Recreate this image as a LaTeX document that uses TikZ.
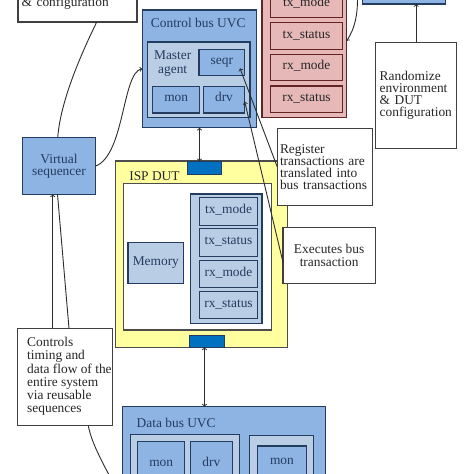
\documentclass[tikz,border=0pt]{standalone}
\usepackage{fontspec}
\setmainfont{Liberation Serif}
\definecolor{uvcblue}{RGB}{142,180,227}
\definecolor{agentblue}{RGB}{185,205,229}
\definecolor{edgeblue}{RGB}{36,60,96}
\definecolor{portblue}{RGB}{0,112,192}
\definecolor{dutyellow}{RGB}{255,255,160}
\definecolor{regpink}{RGB}{230,185,184}
\definecolor{regedge}{RGB}{99,37,35}
\definecolor{wiregray}{RGB}{45,45,45}

\begin{document}
\begin{tikzpicture}[x=1pt,y=-1pt,
    every node/.style={font=\fontsize{13.4}{13.4}\selectfont, inner sep=0pt, outer sep=0pt},
    blk/.style={draw=edgeblue, line width=1.1pt, text=edgeblue},
    uvc/.style={blk, fill=uvcblue},
    agt/.style={blk, fill=agentblue},
    unit/.style={uvc, text height=0.7em, text depth=0.25em},
    reg/.style={agt, text height=0.7em, text depth=0.25em, minimum width=58.4pt, minimum height=27.6pt},
    preg/.style={draw=regedge, line width=1.1pt, fill=regpink, text=black!85, text height=0.7em, text depth=0.25em, minimum width=71.6pt, minimum height=26.6pt},
    port/.style={draw=edgeblue, line width=0.8pt, fill=portblue},
    note/.style={draw=black!75, line width=1.1pt, fill=white, text=black!85},
    wire/.style={draw=wiregray, line width=0.9pt}]
    \useasboundingbox (0,0) rectangle (474,474);
    \fill[white] (0,0) rectangle (474,474);
    \clip (0,0) rectangle (474,474);

    \node[note, anchor=south west, inner xsep=3.7pt, inner ysep=13pt, text width=111.6pt, align=left] (cfg) at (18,22) {\& configuration};
    \node[uvc, minimum width=73.4pt, minimum height=56.6pt, align=center, font=\fontsize{13.4}{11.7}\selectfont] (vs) at (59,166) {Virtual\\sequencer};

    \node[uvc, minimum width=114.4pt, minimum height=117.7pt] (cbus) at (199.5,68.85) {};
    \node[text=edgeblue, anchor=base] at (198.2,27.3) {Control bus UVC};
    \node[agt, minimum width=102.3pt, minimum height=75.7pt] (cagent) at (198.85,79.85) {};
    \node[text=edgeblue, align=center, font=\fontsize{13.4}{14}\selectfont] at (172.7,64) {Master\\agent};
    \node[unit, minimum width=45.7pt, minimum height=26pt] (seqr) at (221.85,62.3) {seqr};
    \node[unit, minimum width=47pt, minimum height=26.7pt] (cmon) at (176.2,99.65) {mon};
    \node[unit, minimum width=41.4pt, minimum height=26.7pt] (cdrv) at (224,99.65) {drv};

    \node[draw=regedge, line width=1.1pt, fill=regpink, anchor=south west, minimum width=84.7pt, minimum height=160pt] (pregs) at (262,117.3) {};
    \foreach \r/\lbl [count=\i from 0] in {ptxm/tx\_mode, ptxs/tx\_status, prxm/rx\_mode, prxs/rx\_status}
        \node[preg] (\r) at (306.5,4.2+31.7*\i) {\lbl};
    \node[uvc, anchor=south west, minimum width=83.4pt, minimum height=30pt] (env) at (362.3,4) {};
    \node[note, minimum width=81pt, minimum height=106pt, text width=73pt, align=left, font=\fontsize{13.4}{11.8}\selectfont] (rand) at (416.2,95.3) {Randomize\\environment\\\& DUT\\configuration};

    \node[draw=black!70, line width=1.1pt, fill=dutyellow, minimum width=171.6pt, minimum height=186.3pt] (dut) at (201.5,254.15) {};
    \node[draw=black!70, line width=1.1pt, fill=white, minimum width=148.4pt, minimum height=146.7pt] (dutcore) at (197.5,256.65) {};
    \node[port, minimum width=34.7pt, minimum height=12.7pt] (ptop) at (204.35,167.65) {};
    \node[port, minimum width=35pt, minimum height=11.6pt] (pbot) at (206.5,341.5) {};
    \node[anchor=base west, text=black!85] at (129.3,180.7) {ISP DUT};
    \node[agt, minimum width=55.7pt, minimum height=40.6pt] (mem) at (155.85,263) {Memory};
    \node[agt, minimum width=71.3pt, minimum height=129.3pt] (regs) at (226.35,258.65) {};
    \foreach \r/\lbl [count=\i from 0] in {txm/tx\_mode, txs/tx\_status, rxm/rx\_mode, rxs/rx\_status}
        \node[reg] (\r) at (228.5,211.5+31.2*\i) {\lbl};

    \node[note, minimum width=95.4pt, minimum height=77.4pt, text width=90pt, align=left, font=\fontsize{13.4}{12.1}\selectfont] (regtr) at (325,167) {Register\\transactions are\\translated into\\bus transactions};
    \node[note, minimum width=92.3pt, minimum height=56pt, align=center, font=\fontsize{13.4}{13.7}\selectfont] (exec) at (329.15,255.3) {Executes bus\\transaction};
    \node[note, minimum width=95pt, minimum height=97.4pt] (ctrl) at (64.8,377) {};
    \node[anchor=west, align=left, text=black!85, font=\fontsize{13.4}{13.3}\selectfont] (ctrltext) at (27.2,376.5) {Controls\\timing and\\data flow of the\\entire system\\via reusable\\sequences};

    \node[uvc, anchor=north west, minimum width=203pt, minimum height=120pt] (dbus) at (122.7,406.7) {};
    \node[anchor=base west, text=edgeblue] at (136.7,427.3) {Data bus UVC};
    \node[agt, anchor=north west, minimum width=109pt, minimum height=80pt] (dagent) at (130.7,434.3) {};
    \node[unit, anchor=north west, minimum width=47pt, minimum height=44.6pt] (dmon) at (137.7,441.7) {mon};
    \node[unit, anchor=north west, minimum width=42pt, minimum height=44.6pt] (ddrv) at (190.3,441.7) {drv};
    \node[agt, anchor=north west, minimum width=64pt, minimum height=80pt] (dagent2) at (249.3,435.5) {};
    \node[unit, anchor=north west, minimum width=49.5pt, minimum height=33.4pt] (dmon2) at (257.2,446) {mon};

    \coordinate (pfeed) at (357,-12);
    \coordinate (dlow) at (122,500);
    \draw[wire, <->] (cbus.south) -- (cbus.south |- ptop.north);
    \draw[wire, <->] ([shift={(-2,0)}]pbot.south) -- ([shift={(-2,0)}]pbot.south |- dbus.north);
    \draw[wire, ->] (rand.north) -- (rand.north |- env.south);
    \draw[wire] ([shift={(19.2,0)}]cfg.south) .. controls +(-12,25) and +(3,-40) .. ([shift={(-1.3,0)}]vs.north);
    \draw[wire, ->] (vs.east) .. controls +(29,-11) and +(-20,3) .. (cbus.west);
    \draw[wire, ->] (regtr.west) -- ([shift={(-4.7,-7)}]seqr.south east);
    \draw[wire, ->] ([shift={(0,7)}]exec.west) -- ([shift={(0,2)}]cdrv.east);
    \draw[wire, ->] ([shift={(-12.1,0)}]ctrl.north) -- ([shift={(-12.1,0)}]ctrl.north |- vs.south);
    \draw[wire] ([shift={(4.2,0)}]ctrl.north) -- ([shift={(-1.5,0)}]vs.south);
    \draw[wire] ([shift={(23.5,0)}]ctrl.south) .. controls +(4,22) and +(-12,-25) .. (dlow);
    \draw[wire, ->] (pfeed) .. controls +(2,25) and +(8,-12) .. ([shift={(0,3.5)}]pregs.east);
\end{tikzpicture}
\end{document}
